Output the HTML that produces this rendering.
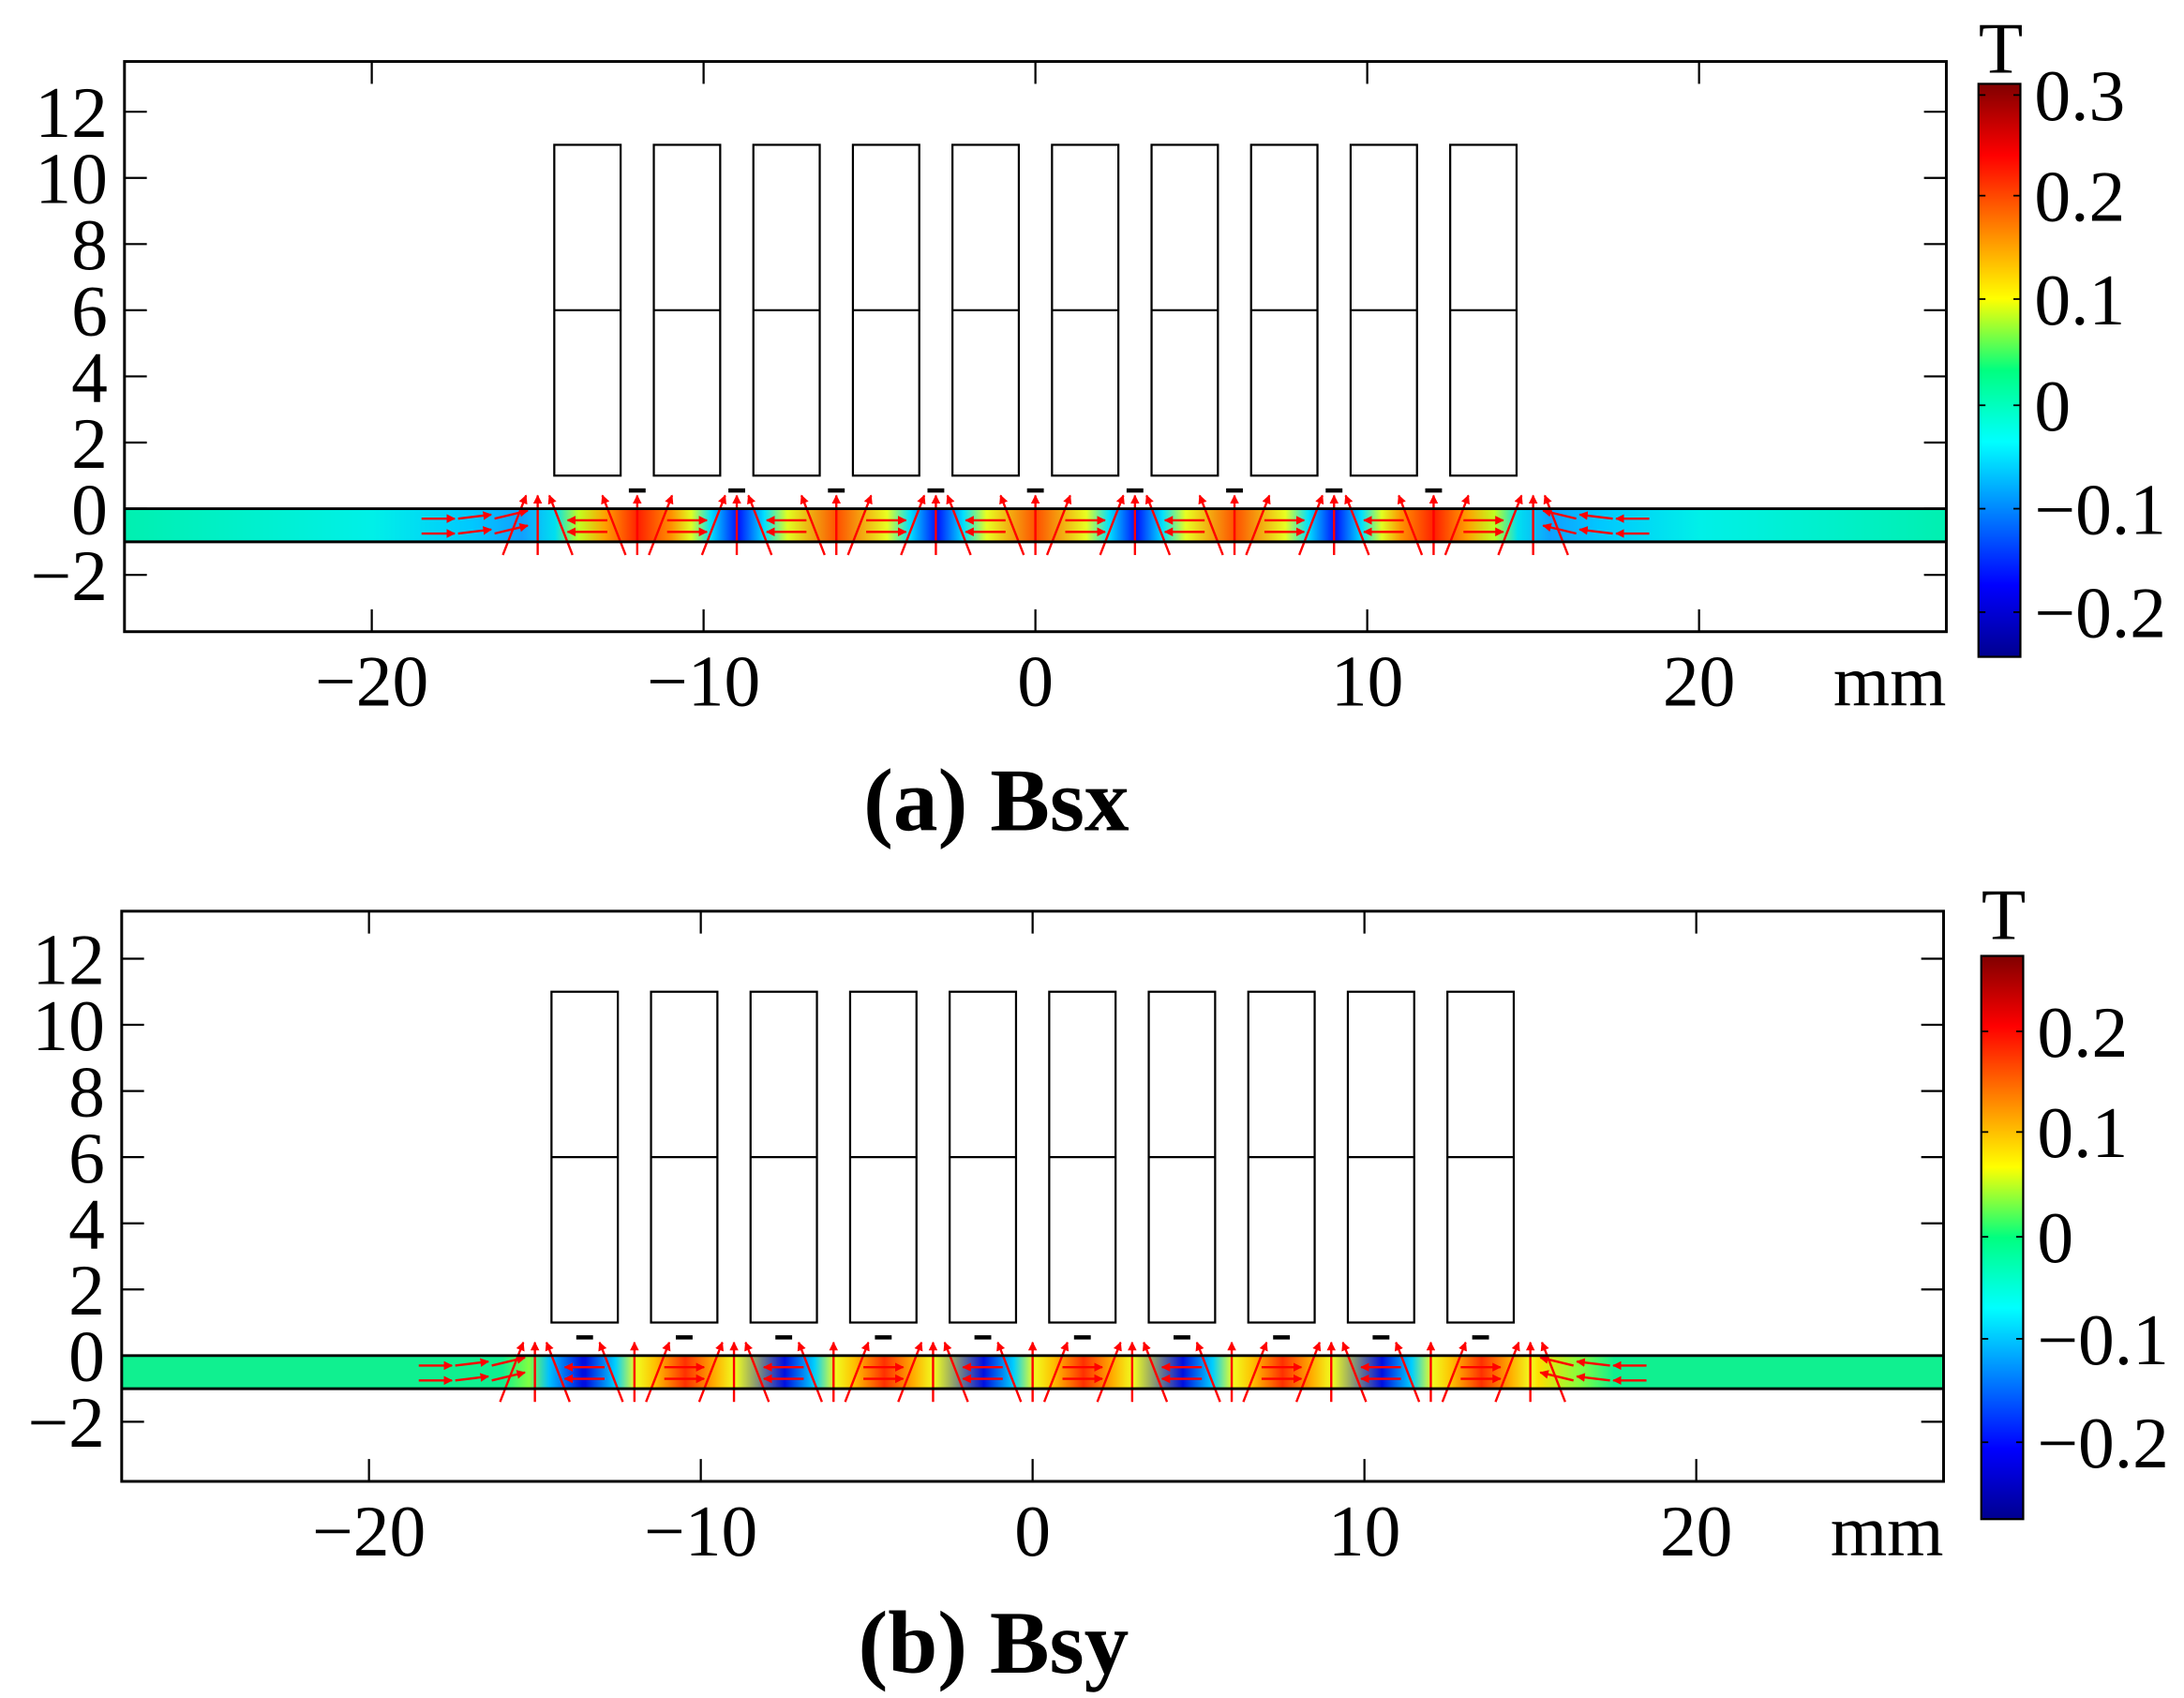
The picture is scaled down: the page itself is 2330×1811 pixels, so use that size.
<!DOCTYPE html>
<html><head><meta charset="utf-8"><style>
html,body{margin:0;padding:0;background:#fff}
svg{display:block}
text{font-family:"Liberation Serif",serif;fill:#000}
</style></head><body>
<svg id="s" width="2330" height="1811" viewBox="0 0 1563 1215" xmlns="http://www.w3.org/2000/svg">
<defs>
<linearGradient id="jet" x1="0" y1="1" x2="0" y2="0">
<stop offset="0" stop-color="#00008f"/><stop offset="0.125" stop-color="#0000ff"/>
<stop offset="0.375" stop-color="#00ffff"/><stop offset="0.5" stop-color="#00ff80"/>
<stop offset="0.625" stop-color="#ffff00"/><stop offset="0.875" stop-color="#ff0000"/>
<stop offset="1" stop-color="#800000"/></linearGradient>
<linearGradient id="ga" gradientUnits="userSpaceOnUse" x1="89" x2="1393" y1="0" y2="0"></linearGradient>
<linearGradient id="gb" gradientUnits="userSpaceOnUse" x1="87" x2="1391" y1="0" y2="0"></linearGradient>
<marker id="ah" viewBox="0 0 10 10" refX="9" refY="5" markerWidth="4" markerHeight="4" orient="auto"><path d="M0,0L10,5L0,10z" fill="#f00"/></marker>
</defs>
<g id="pa"></g><g id="pb"></g>
<text x="713" y="594" font-size="64" font-weight="bold" text-anchor="middle">(a) Bsx</text>
<text x="711" y="1197" font-size="64" font-weight="bold" text-anchor="middle">(b) Bsy</text>
</svg>
<script>
const NS="http://www.w3.org/2000/svg";
function el(p,t,a,txt){const e=document.createElementNS(NS,t);for(const k in a)e.setAttribute(k,a[k]);if(txt!==undefined)e.textContent=txt;p.appendChild(e);return e;}
function grad(id,stops){const g=document.getElementById(id);stops.forEach(s=>el(g,'stop',{offset:s[0],'stop-color':s[1]}));}
function off(mm){return ((mm+27.48)/54.9).toFixed(4);}
grad('ga',[[off(-27.5),'#00f0b0'],[off(-20),'#00f0e8'],[off(-17),'#00c8ff'],[off(-15.5),'#10a0ff'],[off(-14.5),'#00e0f0'],[off(-13.8),'#c0ff20'],[off(-13),'#ffa000'],[off(-12),'#ff2000'],[off(-11),'#ff9000'],[off(-10.4),'#e0ff20'],[off(-9.8),'#00e0ff'],[off(-9),'#0010ff'],[off(-8.2),'#00e0ff'],[off(-7.5),'#e0ff20'],[off(-6),'#ff5000'],[off(-4.5),'#e8ff20'],[off(-3.8),'#00e0ff'],[off(-3),'#0010ff'],[off(-2.2),'#00e0ff'],[off(-1.5),'#e8ff20'],[off(0),'#ff5000'],[off(1.5),'#e8ff20'],[off(2.2),'#00e0ff'],[off(3),'#0010ff'],[off(3.8),'#00e0ff'],[off(4.5),'#e8ff20'],[off(6),'#ff5000'],[off(7.5),'#e8ff20'],[off(8.2),'#00e0ff'],[off(9),'#0010ff'],[off(9.8),'#00e0ff'],[off(10.4),'#e0ff20'],[off(11),'#ff9000'],[off(12),'#ff2000'],[off(13),'#ffa000'],[off(13.8),'#c0ff20'],[off(14.5),'#00e0f0'],[off(15.5),'#10a0ff'],[off(17),'#00c8ff'],[off(20),'#00f0e8'],[off(27.5),'#00f0b0']]);
const gbS=[[off(-27.5),'#10f090'],[off(-16),'#10f090'],[off(-15.2),'#80ff40'],[off(-14.6),'#00c0ff'],[off(-13.6),'#0010e0']];
for(let i=0;i<10;i++){const x=-13.5+3*i;if(i%2==0){gbS.push([off(x),'#0010e0']);gbS.push([off(x+0.9),'#00d0ff']);gbS.push([off(x+1.5),'#f0ff20']);}else{gbS.push([off(x-0.9),'#ffc000']);gbS.push([off(x),'#ff3000']);gbS.push([off(x+0.9),'#ffb000']);gbS.push([off(x+1.5),'#f0ff20']);}}
gbS.push([off(15.2),'#ffe000'],[off(16.5),'#80ff40'],[off(17.5),'#10f090'],[off(27.5),'#10f090']);
gbS.sort((a,b)=>a[0]-b[0]);grad('gb',gbS);

function panel(g,L,R,T,B,x0,y0,grd,dashUnder,cbX,cbT,cbB,cbLabels,tY){
  const G=document.getElementById(g);const px=23.75,py=23.67;
  const X=m=>x0+m*px,Y=m=>y0-m*py;
  el(G,'rect',{x:L,y:Y(0),width:R-L,height:py,fill:'url(#'+grd+')'});
  for(let k=0;k<11;k++){const bx=-15+3*k;
    for(const d of [-0.7,0,0.7]){const x=bx+d;const tilt=d*1.0*(k%2?1:-1);
      el(G,'line',{x1:X(x-tilt*0.5),y1:Y(-1.4),x2:X(x+tilt*0.5),y2:Y(0.4),stroke:'#f00','stroke-width':1.6,'marker-end':'url(#ah)'});}
  }
  for(let k=0;k<10;k++){const cx=-13.5+3*k;
    for(const yy of [-0.35,-0.7]){const dir=(k%2?1:-1);
      el(G,'line',{x1:X(cx-0.6*dir),y1:Y(yy),x2:X(cx+0.6*dir),y2:Y(yy),stroke:'#f00','stroke-width':1.6,'marker-end':'url(#ah)'});}}
  for(const s of [-1,1])for(let j=0;j<3;j++)for(const yy of [-0.3,-0.75]){const xa=s*(18.5-j*1.1);
    el(G,'line',{x1:X(xa),y1:Y(yy),x2:X(xa-s*1.0),y2:Y(yy+(j*0.12)),stroke:'#f00','stroke-width':1.6,'marker-end':'url(#ah)'});}
  el(G,'line',{x1:L,x2:R,y1:Y(0),y2:Y(0),stroke:'#000','stroke-width':2});
  el(G,'line',{x1:L,x2:R,y1:Y(-1),y2:Y(-1),stroke:'#000','stroke-width':2});
  for(let i=0;i<10;i++){const xl=X(-14.5+3*i);
    el(G,'rect',{x:xl,y:Y(11),width:2*px,height:10*py,fill:'none',stroke:'#000','stroke-width':1.5});
    el(G,'line',{x1:xl,x2:xl+2*px,y1:Y(6),y2:Y(6),stroke:'#000','stroke-width':1.5});}
  if(dashUnder){for(let i=0;i<10;i++){const cx=X(-13.5+3*i);el(G,'line',{x1:cx-6,x2:cx+6,y1:Y(0.55),y2:Y(0.55),stroke:'#000','stroke-width':3});}}
  else{for(let i=0;i<9;i++){const cx=X(-12+3*i);el(G,'line',{x1:cx-6,x2:cx+6,y1:Y(0.55),y2:Y(0.55),stroke:'#000','stroke-width':3});}}
  el(G,'rect',{x:L,y:T,width:R-L,height:B-T,fill:'none',stroke:'#000','stroke-width':2});
  for(const m of [-20,-10,0,10,20]){el(G,'line',{x1:X(m),x2:X(m),y1:T,y2:T+16,stroke:'#000','stroke-width':1.5});el(G,'line',{x1:X(m),x2:X(m),y1:B,y2:B-16,stroke:'#000','stroke-width':1.5});
    el(G,'text',{x:X(m),y:B+53,'font-size':52,'text-anchor':'middle'},(m<0?'\u2212':'')+Math.abs(m));}
  el(G,'text',{x:R,y:B+53,'font-size':52,'text-anchor':'end'},'mm');
  for(const m of [-2,0,2,4,6,8,10,12]){el(G,'line',{x1:L,x2:L+16,y1:Y(m),y2:Y(m),stroke:'#000','stroke-width':1.5});el(G,'line',{x1:R,x2:R-16,y1:Y(m),y2:Y(m),stroke:'#000','stroke-width':1.5});
    el(G,'text',{x:L-12,y:Y(m)+18,'font-size':52,'text-anchor':'end'},(m<0?'\u2212':'')+Math.abs(m));}
  el(G,'rect',{x:cbX,y:cbT,width:30,height:cbB-cbT,fill:'url(#jet)',stroke:'#000','stroke-width':1.5});
  for(const l of cbLabels){el(G,'line',{x1:cbX,x2:cbX+5,y1:l[1],y2:l[1],stroke:'#000','stroke-width':1.2});el(G,'line',{x1:cbX+30,x2:cbX+25,y1:l[1],y2:l[1],stroke:'#000','stroke-width':1.2});
    el(G,'text',{x:cbX+40,y:l[1]+18,'font-size':52},l[0]);}
  el(G,'text',{x:cbX+16,y:tY,'font-size':52,'text-anchor':'middle'},'T');
}
panel('pa',89,1393,44,452,741,364,'ga',false,1416,60,470,[['0.3',68],['0.2',140],['0.1',214],['0',290],['\u22120.1',364],['\u22120.2',438]],52);
panel('pb',87,1391,652,1060,739,970,'gb',true,1418,684,1087,[['0.2',738],['0.1',810],['0',885],['\u22120.1',958],['\u22120.2',1032]],672);
</script>
</body></html>
